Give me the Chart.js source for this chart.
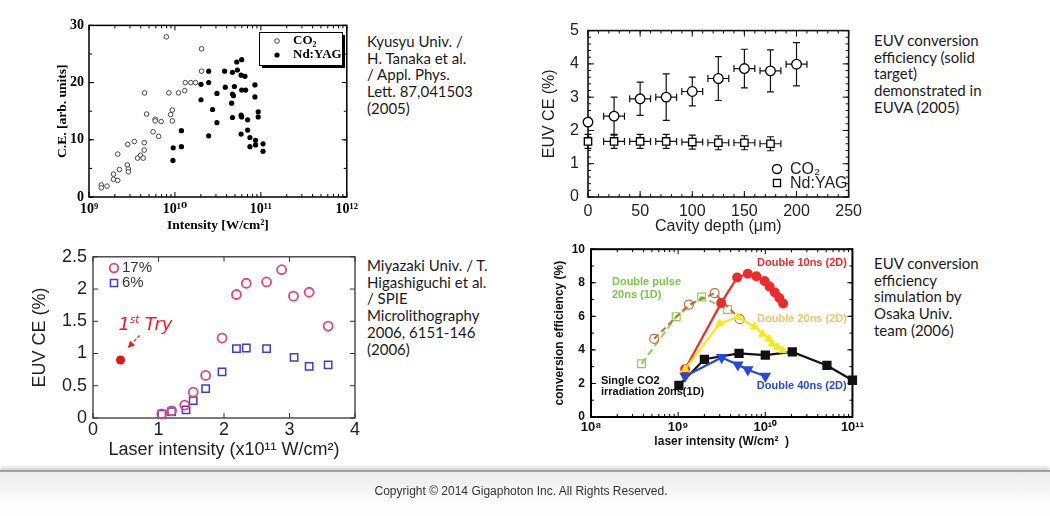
<!DOCTYPE html>
<html><head><meta charset="utf-8">
<script src="https://cdn.jsdelivr.net/npm/chart.js@4"></script>
<style>
html,body{margin:0;padding:0;background:#fff;width:1050px;height:516px;overflow:hidden;position:relative;}
canvas{position:absolute;}
.note{position:absolute;font-family:Lato,'DejaVu Sans',sans-serif;font-size:15px;line-height:16.7px;color:#1a1a1a;white-space:nowrap;}
#footer{position:absolute;left:0;top:470px;width:1050px;height:46px;background:linear-gradient(#ebebeb,#fefefe 70%);border-top:2px solid #a0a0a0;box-shadow:0 -2px 4px rgba(0,0,0,0.22);}
#footer span{position:absolute;left:0;width:1042px;text-align:center;top:12px;font-family:'Liberation Sans Narrow','Liberation Sans',sans-serif;font-size:12px;color:#333;}
</style></head>
<body>
<canvas id="c1" width="322" height="222" style="left:40px;top:12px"></canvas>
<canvas id="c2" width="352" height="232" style="left:515px;top:12px"></canvas>
<canvas id="c3" width="350" height="225" style="left:15px;top:240px"></canvas>
<canvas id="c4" width="352" height="222" style="left:515px;top:236px"></canvas>

<div class="note" style="left:367px;top:33px">Kyusyu Univ. /<br>H. Tanaka et al.<br>/ Appl. Phys.<br>Lett. 87,041503<br>(2005)</div>
<div class="note" style="left:874px;top:32px">EUV conversion<br>efficiency (solid<br>target)<br>demonstrated in<br>EUVA (2005)</div>
<div class="note" style="left:367px;top:257px">Miyazaki Univ. / T.<br>Higashiguchi et al.<br>/ SPIE<br>Microlithography<br>2006, 6151-146<br>(2006)</div>
<div class="note" style="left:874px;top:255px">EUV conversion<br>efficiency<br>simulation by<br>Osaka Univ.<br>team (2006)</div>
<div id="footer"><span>Copyright © 2014 Gigaphoton Inc. All Rights Reserved.</span></div>

<script>
// ================= DATA =================
// Chart 1 : Kyusyu (C.E. vs intensity)
const c1XTicks = [1e9, 1e10, 1e11, 1e12];
const c1XTickLabels = ['10⁹', '10¹⁰', '10¹¹', '10¹²'];
const c1YTicks = [0, 10, 20, 30];
const c1YTickLabels = ['0', '10', '20', '30'];
const c1CO2X = [1.39e9,1.39e9,1.62e9,1.93e9,1.93e9,2.16e9,2.26e9,2.16e9,2.79e9,2.87e9,2.87e9,2.82e9,3.37e9,
  3.67e9,3.98e9,4.27e9,4.39e9,4.39e9,4.43e9,4.68e9,5.57e9,5.89e9,5.89e9,6.46e9,6.92e9,7.94e9,8.51e9,8.91e9,
  9.33e9,9.33e9,1.10e10,1.30e10,1.32e10,1.53e10,1.74e10,2.04e10,2.04e10];
const c1CO2Y = [2.1,1.6,1.9,4.0,3.1,2.9,4.8,7.5,5.6,4.9,4.4,9.2,9.7,
  6.8,7.3,6.8,8.2,9.5,18.2,14.5,11.4,13.6,13.3,10.6,13.2,28.0,18.2,14.4,
  15.2,13.3,18.2,18.6,20.0,20.0,20.0,25.9,22.0];
const c1YagX = [9.48e9,9.55e9,1.19e10,1.19e10,2.01e10,2.01e10,2.47e10,2.47e10,2.47e10,2.74e10,3.08e10,3.08e10,
  3.78e10,3.85e10,4.67e10,4.67e10,4.80e10,4.57e10,4.67e10,4.92e10,5.24e10,5.33e10,5.98e10,5.89e10,5.89e10,
  5.98e10,5.89e10,6.53e10,5.98e10,6.65e10,7.02e10,7.02e10,7.46e10,7.46e10,8.53e10,8.53e10,8.67e10,8.67e10,
  9.31e10,9.31e10,1.06e11,1.06e11];
const c1YagY = [6.4,8.6,8.8,11.6,19.7,17.0,22.0,20.0,10.7,15.3,18.1,13.0,
  22.0,19.2,21.8,18.0,17.7,16.4,13.9,19.3,23.6,22.2,24.0,21.3,14.3,
  14.0,11.0,21.1,18.7,18.7,13.5,11.7,10.4,8.8,19.6,17.5,9.9,9.1,
  14.9,14.0,9.3,8.0];

// Chart 2 : EUVA cavity depth
const c2XTicks = [0, 50, 100, 150, 200, 250];
const c2YTicks = [0, 1, 2, 3, 4, 5];
const c2CO2Depth = [0, 25, 50, 75, 100, 125, 150, 175, 200];
const c2CO2CE = [2.25, 2.43, 2.95, 3.0, 3.17, 3.56, 3.86, 3.79, 3.99];
const c2CO2ErrY = [0, 0.57, 0.5, 0.7, 0.43, 0.66, 0.58, 0.63, 0.65];
const c2CO2ErrX = [0, 10, 10, 10, 10, 10, 10, 10, 10];
const c2YagDepth = [0, 25, 50, 75, 100, 125, 150, 175];
const c2YagCE = [1.67, 1.67, 1.67, 1.67, 1.65, 1.63, 1.63, 1.60];
const c2YagErrY = [0.21, 0.21, 0.21, 0.21, 0.21, 0.21, 0.21, 0.21];
const c2YagErrX = [0, 10, 10, 10, 10, 10, 10, 10];

// Chart 3 : Miyazaki
const c3XTicks = [0, 1, 2, 3, 4];
const c3YTicks = [0, 0.5, 1, 1.5, 2, 2.5];
const c3YTickLabels = ['0', '0.5', '1', '1.5', '2', '2.5'];
const c3X17 = [1.05, 1.20, 1.40, 1.53, 1.72, 1.97, 2.19, 2.34, 2.65, 2.88, 3.06, 3.30, 3.59];
const c3Y17 = [0.065, 0.11, 0.20, 0.40, 0.66, 1.24, 1.915, 2.09, 2.11, 2.30, 1.89, 1.95, 1.425];
const c3X6 = [1.05, 1.20, 1.42, 1.53, 1.72, 1.97, 2.19, 2.34, 2.65, 3.07, 3.30, 3.59];
const c3Y6 = [0.06, 0.10, 0.125, 0.27, 0.455, 0.715, 1.075, 1.085, 1.075, 0.94, 0.80, 0.825];
const c3FirstX = [0.42];
const c3FirstY = [0.90];

// Chart 4 : Osaka simulation
const c4XTicks = [1e8, 1e9, 1e10, 1e11];
const c4XTickLabels = ['10⁸', '10⁹', '10¹⁰', '10¹¹'];
const c4YTicks = [0, 2, 4, 6, 8, 10];
const c4SingleX = [1.02e9, 2.0e9, 5.0e9, 1.0e10, 2.04e10, 5.1e10, 1.0e11];
const c4SingleY = [1.88, 3.44, 3.79, 3.69, 3.88, 3.07, 2.19];
const c4PulseSqX = [3.8e8, 9.5e8, 1.86e9, 3.7e9];
const c4PulseSqY = [3.17, 5.98, 7.15, 6.41];
const c4PulseCiX = [5.3e8, 1.33e9, 2.62e9, 5.1e9];
const c4PulseCiY = [4.66, 6.70, 7.38, 5.83];
const c4D10X = [1.2e9, 3.12e9, 4.75e9, 6.3e9, 7.9e9, 9.8e9, 1.12e10, 1.29e10, 1.45e10, 1.6e10];
const c4D10Y = [2.85, 6.80, 8.31, 8.54, 8.39, 8.10, 7.77, 7.42, 7.09, 6.76];
const c4D20X = [1.2e9, 2.99e9, 4.84e9, 7.5e9, 9.3e9, 1.1e10, 1.2e10, 1.38e10, 1.58e10];
const c4D20Y = [2.85, 5.57, 5.96, 5.38, 4.95, 4.66, 4.37, 4.17, 3.98];
const c4D40X = [1.2e9, 3.16e9, 4.84e9, 6.3e9, 1.0e10];
const c4D40Y = [2.43, 3.55, 3.11, 2.82, 2.43];

// ================= HELPERS =================
const pts = (xs, ys) => xs.map((x, i) => ({x, y: ys[i]}));
const range = (a, b, s) => { const r = []; for (let v = a; v <= b + 1e-9; v += s) r.push(+v.toFixed(6)); return r; };
const logMinor = (e0, e1) => { const r = []; for (let e = e0; e < e1; e++) for (let m = 2; m <= 9; m++) r.push(m * Math.pow(10, e)); return r; };
const fixTicks = arr => (s => { s.ticks = arr.map(v => ({value: v})); });

function drawMarker(ctx, style, x, y, r, fill, stroke, bw) {
  ctx.save();
  ctx.fillStyle = fill; ctx.strokeStyle = stroke; ctx.lineWidth = bw;
  ctx.beginPath();
  if (style === 'rect') { const h = r * Math.SQRT1_2; ctx.rect(x - h, y - h, 2 * h, 2 * h); }
  else ctx.arc(x, y, r, 0, Math.PI * 2);
  ctx.fill(); if (bw > 0) ctx.stroke();
  ctx.restore();
}

const framePlugin = {
  id: 'frameTicks',
  beforeDatasetsDraw(chart, args, o) {
    if (!o || !o.on) return;
    const {ctx, chartArea: a} = chart;
    const sx = chart.scales.x, sy = chart.scales.y;
    ctx.save();
    ctx.strokeStyle = o.color || '#000';
    ctx.lineWidth = o.tickWidth || 1;
    ctx.beginPath();
    const doX = (vals, len) => (vals || []).forEach(v => {
      const p = sx.getPixelForValue(v);
      if (p < a.left - 0.5 || p > a.right + 0.5) return;
      ctx.moveTo(p, a.bottom); ctx.lineTo(p, a.bottom - len);
      if (o.mirror) { ctx.moveTo(p, a.top); ctx.lineTo(p, a.top + len); }
    });
    const doY = (vals, len) => (vals || []).forEach(v => {
      const p = sy.getPixelForValue(v);
      if (p < a.top - 0.5 || p > a.bottom + 0.5) return;
      ctx.moveTo(a.left, p); ctx.lineTo(a.left + len, p);
      if (o.mirror) { ctx.moveTo(a.right, p); ctx.lineTo(a.right - len, p); }
    });
    doX(o.xMajor, o.majorLen); doX(o.xMinor, o.minorLen);
    doY(o.yMajor, o.majorLen); doY(o.yMinor, o.minorLen);
    ctx.stroke();
    ctx.lineWidth = o.frameWidth || 1;
    ctx.strokeRect(a.left, a.top, a.right - a.left, a.bottom - a.top);
    ctx.restore();
  }
};

const errorPlugin = {
  id: 'errorBars',
  beforeDatasetsDraw(chart, args, o) {
    const {ctx} = chart;
    const sx = chart.scales.x, sy = chart.scales.y;
    ctx.save();
    ctx.strokeStyle = (o && o.color) || '#000';
    ctx.lineWidth = (o && o.width) || 1.2;
    const cap = (o && o.cap) || 3;
    chart.data.datasets.forEach(ds => {
      if (!ds.errY && !ds.errX) return;
      ds.data.forEach((p, i) => {
        const px = sx.getPixelForValue(p.x), py = sy.getPixelForValue(p.y);
        const ey = ds.errY ? ds.errY[i] : 0, ex = ds.errX ? ds.errX[i] : 0;
        ctx.beginPath();
        if (ey) {
          const y1 = sy.getPixelForValue(p.y - ey), y2 = sy.getPixelForValue(p.y + ey);
          ctx.moveTo(px, y1); ctx.lineTo(px, y2);
          ctx.moveTo(px - cap, y1); ctx.lineTo(px + cap, y1);
          ctx.moveTo(px - cap, y2); ctx.lineTo(px + cap, y2);
        }
        if (ex) {
          const x1 = sx.getPixelForValue(p.x - ex), x2 = sx.getPixelForValue(p.x + ex);
          ctx.moveTo(x1, py); ctx.lineTo(x2, py);
          ctx.moveTo(x1, py - cap); ctx.lineTo(x1, py + cap);
          ctx.moveTo(x2, py - cap); ctx.lineTo(x2, py + cap);
        }
        ctx.stroke();
      });
    });
    ctx.restore();
  }
};

const legendPlugin = {
  id: 'boxLegend',
  afterDraw(chart, args, o) {
    if (!o || !o.items) return;
    const ctx = chart.ctx;
    ctx.save();
    if (o.box) {
      const b = o.box;
      ctx.fillStyle = '#000'; ctx.fillRect(b.x + b.shadow, b.y + b.shadow, b.w, b.h);
      ctx.fillStyle = '#fff'; ctx.fillRect(b.x, b.y, b.w, b.h);
      ctx.strokeStyle = '#000'; ctx.lineWidth = 1; ctx.strokeRect(b.x + 0.5, b.y + 0.5, b.w, b.h);
    }
    o.items.forEach(it => {
      const ds = chart.data.datasets[it.ds];
      drawMarker(ctx, ds.pointStyle, it.x, it.y, it.r, ds.backgroundColor, ds.borderColor, ds.borderWidth);
      ctx.font = o.font; ctx.fillStyle = o.color; ctx.textBaseline = 'middle'; ctx.textAlign = 'left';
      ctx.fillText(ds.label, it.x + o.textDx, it.y + (o.textDy || 0));
    });
    ctx.restore();
  }
};

const notesPlugin = {
  id: 'notes',
  afterDatasetsDraw(chart, args, o) {
    if (!o) return;
    const {ctx} = chart;
    const sx = chart.scales.x, sy = chart.scales.y;
    ctx.save();
    (o.items || []).forEach(it => {
      const px = sx.getPixelForValue(it.x), py = sy.getPixelForValue(it.y);
      ctx.fillStyle = it.color; ctx.textBaseline = 'middle'; ctx.textAlign = 'left';
      let cx = px;
      it.parts.forEach(p => {
        ctx.font = p.sup ? it.supFont : it.font;
        ctx.fillText(p.t, cx, py - (p.sup ? it.supDy : 0));
        cx += ctx.measureText(p.t).width;
      });
    });
    (o.arrows || []).forEach(ar => {
      const x1 = sx.getPixelForValue(ar.x1), y1 = sy.getPixelForValue(ar.y1);
      const x2 = sx.getPixelForValue(ar.x2), y2 = sy.getPixelForValue(ar.y2);
      ctx.strokeStyle = ar.color; ctx.fillStyle = ar.color; ctx.lineWidth = 1.3;
      ctx.setLineDash([3, 2]);
      const ang = Math.atan2(y2 - y1, x2 - x1);
      const hl = 8;
      ctx.beginPath(); ctx.moveTo(x1, y1); ctx.lineTo(x2 - hl * Math.cos(ang), y2 - hl * Math.sin(ang)); ctx.stroke();
      ctx.setLineDash([]);
      ctx.beginPath();
      ctx.moveTo(x2, y2);
      ctx.lineTo(x2 - hl * Math.cos(ang - 0.45), y2 - hl * Math.sin(ang - 0.45));
      ctx.lineTo(x2 - hl * Math.cos(ang + 0.45), y2 - hl * Math.sin(ang + 0.45));
      ctx.closePath(); ctx.fill();
    });
    ctx.restore();
  }
};

Chart.register(framePlugin, errorPlugin, legendPlugin, notesPlugin);

const base = {
  responsive: false, animation: false, devicePixelRatio: 1,
  events: []
};
const noPlug = {legend: {display: false}, tooltip: {enabled: false}};
function axis(o) {
  return Object.assign({
    grid: {display: false, drawTicks: false}, border: {display: false}
  }, o);
}

// ================= CHART 1 =================
const serifB = (size) => ({family: "'Liberation Serif','DejaVu Serif',serif", weight: 'bold', size});
new Chart(document.getElementById('c1'), {
  type: 'scatter',
  data: {datasets: [
    {label: 'CO₂', data: pts(c1CO2X, c1CO2Y), pointStyle: 'circle', pointRadius: 2.3, borderWidth: 0.9,
     borderColor: '#333', backgroundColor: '#fff', clip: false},
    {label: 'Nd:YAG', data: pts(c1YagX, c1YagY), pointStyle: 'circle', pointRadius: 2.6, borderWidth: 0,
     borderColor: '#000', backgroundColor: '#000', clip: false}
  ]},
  options: Object.assign({}, base, {
    layout: {padding: {top: 13, right: 13, left: 0, bottom: 0}},
    scales: {
      x: axis({type: 'logarithmic', min: 1e9, max: 1e12, afterBuildTicks: fixTicks(c1XTicks),
        afterFit: s => { s.height = 37; },
        ticks: {callback: (v, i) => c1XTickLabels[i], font: serifB(14), color: '#000', padding: 4, maxRotation: 0, autoSkip: false},
        title: {display: true, text: 'Intensity [W/cm²]', font: serifB(13.5), color: '#000', padding: {top: 0, bottom: 0}}}),
      y: axis({type: 'linear', min: 0, max: 30, afterBuildTicks: fixTicks(c1YTicks),
        afterFit: s => { s.width = 49; },
        ticks: {callback: (v, i) => c1YTickLabels[i], font: serifB(14), color: '#000', padding: 5},
        title: {display: true, text: 'C.E. [arb. units]', font: serifB(13.5), color: '#000', padding: {top: 14, bottom: 0}}})
    },
    plugins: Object.assign({}, noPlug, {
      frameTicks: {on: true, mirror: true, frameWidth: 1.5, majorLen: 5, minorLen: 3,
        xMajor: c1XTicks, xMinor: logMinor(9, 12), yMajor: c1YTicks, yMinor: range(0, 30, 5)},
      boxLegend: {box: {x: 219, y: 20, w: 83, h: 33, shadow: 3}, font: "bold 13px 'Liberation Serif',serif", color: '#000', textDx: 16,
        items: [{ds: 0, x: 237, y: 29, r: 2.3}, {ds: 1, x: 237, y: 43, r: 2.6}]}
    })
  })
});

// ================= CHART 2 =================
const sans = (size) => ({family: "'Liberation Sans',Arial,sans-serif", size});
new Chart(document.getElementById('c2'), {
  type: 'scatter',
  data: {datasets: [
    {label: 'CO₂', data: pts(c2CO2Depth, c2CO2CE), errY: c2CO2ErrY, errX: c2CO2ErrX, pointStyle: 'circle', pointRadius: 4.8,
     borderWidth: 1.3, borderColor: '#000', backgroundColor: '#fff', clip: false},
    {label: 'Nd:YAG', data: pts(c2YagDepth, c2YagCE), errY: c2YagErrY, errX: c2YagErrX, pointStyle: 'rect', pointRadius: 5.2,
     borderWidth: 1.3, borderColor: '#000', backgroundColor: '#fff', clip: false}
  ]},
  options: Object.assign({}, base, {
    layout: {padding: {top: 18, right: 14, left: 0, bottom: 0}},
    scales: {
      x: axis({type: 'linear', min: 0, max: 250, afterBuildTicks: fixTicks(c2XTicks),
        afterFit: s => { s.height = 47; },
        ticks: {font: sans(16), color: '#222', padding: 5, maxRotation: 0, autoSkip: false},
        title: {display: true, text: 'Cavity depth (μm)', font: sans(16), color: '#222', padding: {top: 0, bottom: 8}}}),
      y: axis({type: 'linear', min: 0, max: 5, afterBuildTicks: fixTicks(c2YTicks),
        afterFit: s => { s.width = 73; },
        ticks: {font: sans(16), color: '#222', padding: 9},
        title: {display: true, text: 'EUV CE (%)', font: sans(16), color: '#222', padding: {top: 25, bottom: 0}}})
    },
    plugins: Object.assign({}, noPlug, {
      frameTicks: {on: true, mirror: true, frameWidth: 1.6, color: '#111', majorLen: 6, minorLen: 3,
        xMajor: c2XTicks, xMinor: range(0, 250, 10), yMajor: c2YTicks, yMinor: range(0, 5, 0.2)},
      errorBars: {color: '#111', width: 1.2, cap: 3.5},
      boxLegend: {font: "16px 'Liberation Sans',Arial,sans-serif", color: '#222', textDx: 13, textDy: 1,
        items: [{ds: 0, x: 262, y: 157, r: 4.5}, {ds: 1, x: 262, y: 171, r: 5}]}
    })
  })
});

// ================= CHART 3 =================
const pink = '#e0447f', blue3 = '#3d3dd0';
new Chart(document.getElementById('c3'), {
  type: 'scatter',
  data: {datasets: [
    {label: '17%', data: pts(c3X17, c3Y17), pointStyle: 'circle', pointRadius: 4.5, borderWidth: 1.8,
     borderColor: pink, backgroundColor: 'rgba(255,255,255,0)', clip: false},
    {label: '6%', data: pts(c3X6, c3Y6), pointStyle: 'rect', pointRadius: 5.2, borderWidth: 1.5,
     borderColor: blue3, backgroundColor: 'rgba(255,255,255,0)', clip: false},
    {label: '1st Try', data: pts(c3FirstX, c3FirstY), pointStyle: 'circle', pointRadius: 4.5, borderWidth: 0,
     borderColor: '#e8141c', backgroundColor: '#e8141c', clip: false}
  ]},
  options: Object.assign({}, base, {
    layout: {padding: {top: 12, right: 10, left: 0, bottom: 0}},
    scales: {
      x: axis({type: 'linear', min: 0, max: 4, afterBuildTicks: fixTicks(c3XTicks),
        afterFit: s => { s.height = 47; },
        ticks: {font: sans(18), color: '#222', padding: 1, maxRotation: 0, autoSkip: false},
        title: {display: true, text: 'Laser intensity (x10¹¹ W/cm²)', font: sans(18), color: '#222', padding: {top: 0, bottom: 4}}}),
      y: axis({type: 'linear', min: 0, max: 2.5, afterBuildTicks: fixTicks(c3YTicks),
        afterFit: s => { s.width = 78; },
        ticks: {callback: (v, i) => c3YTickLabels[i], font: sans(18), color: '#222', padding: 6},
        title: {display: true, text: 'EUV CE (%)', font: sans(18), color: '#222', padding: {top: 14, bottom: 0}}})
    },
    plugins: Object.assign({}, noPlug, {
      frameTicks: {on: true, mirror: true, frameWidth: 1.3, color: '#333', majorLen: 5, minorLen: 0,
        xMajor: c3XTicks, yMajor: c3YTicks},
      boxLegend: {font: "15px 'Liberation Sans',Arial,sans-serif", color: '#333', textDx: 8, textDy: 0,
        items: [{ds: 0, x: 99, y: 28, r: 4.3}, {ds: 1, x: 99, y: 43, r: 5}]},
      notes: {
        items: [{x: 0.39, y: 1.44, color: '#e8202a', font: "italic 18px 'DejaVu Sans',sans-serif",
          supFont: "italic 10px 'DejaVu Sans',sans-serif", supDy: 5,
          parts: [{t: '1'}, {t: 'st', sup: true}, {t: ' Try'}]}],
        arrows: [{x1: 0.71, y1: 1.28, x2: 0.53, y2: 1.085, color: '#e8202a'}]
      }
    })
  })
});

// ================= CHART 4 =================
const boldS = (size) => ({family: "'Liberation Sans',Arial,sans-serif", weight: 'bold', size});
const red4 = '#f02a2a', yel4 = '#f7ea10', blu4 = '#2448e0', grn4 = '#86d64a', brn4 = '#c8683c';
new Chart(document.getElementById('c4'), {
  type: 'scatter',
  data: {datasets: [
    {label: 'Double 20ns (2D)', data: pts(c4D20X, c4D20Y), showLine: true, borderWidth: 2.2, borderColor: yel4,
     pointStyle: 'triangle', pointRadius: 4.5, pointBackgroundColor: yel4, pointBorderColor: yel4, pointBorderWidth: 1, clip: false},
    {label: 'Double 40ns (2D)', data: pts(c4D40X, c4D40Y), showLine: true, borderWidth: 2.2, borderColor: blu4,
     pointStyle: 'triangle', pointRotation: 180, pointRadius: 4.5, pointBackgroundColor: blu4, pointBorderColor: blu4, clip: false},
    {label: 'Double 10ns (2D)', data: pts(c4D10X, c4D10Y), showLine: true, borderWidth: 2.2, borderColor: red4,
     pointStyle: 'circle', pointRadius: 3.9, pointBackgroundColor: red4, pointBorderColor: red4, clip: false},
    {label: 'Single CO2 irradiation 20ns(1D)', data: pts(c4SingleX, c4SingleY), showLine: true, borderWidth: 2.2, borderColor: '#111',
     pointStyle: 'rect', pointRadius: 5, pointBackgroundColor: '#111', pointBorderColor: '#111', clip: false},
    {label: 'Double pulse 20ns (1D) circles', data: pts(c4PulseCiX, c4PulseCiY), showLine: true, borderWidth: 2, borderColor: brn4,
     borderDash: [6, 4], pointStyle: 'circle', pointRadius: 4.5, pointBackgroundColor: 'rgba(0,0,0,0)', pointBorderColor: brn4, pointBorderWidth: 1.2, clip: false},
    {label: 'Double pulse 20ns (1D)', data: pts(c4PulseSqX, c4PulseSqY), showLine: true, borderWidth: 2, borderColor: grn4,
     borderDash: [7, 4], pointStyle: 'rect', pointRadius: 5.5, pointBackgroundColor: 'rgba(0,0,0,0)', pointBorderColor: grn4, pointBorderWidth: 1.2, clip: false}
  ]},
  options: Object.assign({}, base, {
    layout: {padding: {top: 9, right: 14, left: 0, bottom: 0}},
    scales: {
      x: axis({type: 'logarithmic', min: 1e8, max: 1e11, afterBuildTicks: fixTicks(c4XTicks),
        afterFit: s => { s.height = 41; },
        ticks: {callback: (v, i) => c4XTickLabels[i], font: boldS(13), color: '#111', padding: 3, maxRotation: 0, autoSkip: false},
        title: {display: true, text: 'laser intensity (W/cm²  )', font: boldS(12), color: '#111', padding: {top: 0, bottom: 9}}}),
      y: axis({type: 'linear', min: 0, max: 10, afterBuildTicks: fixTicks(c4YTicks),
        afterFit: s => { s.width = 76; },
        ticks: {font: boldS(12), color: '#111', padding: 6},
        title: {display: true, text: 'conversion efficiency (%)', font: boldS(12), color: '#111', padding: {top: 37, bottom: 0}}})
    },
    plugins: Object.assign({}, noPlug, {
      frameTicks: {on: true, mirror: true, frameWidth: 2, color: '#000', majorLen: 5, minorLen: 3,
        xMajor: c4XTicks, xMinor: logMinor(8, 11), yMajor: c4YTicks, yMinor: range(0, 10, 1)},
      notes: {items: [
        {x: 8.05e9, y: 9.18, color: red4, font: "bold 11px 'Liberation Sans',Arial,sans-serif", parts: [{t: 'Double 10ns (2D)'}]},
        {x: 1.74e8, y: 8.02, color: '#77c940', font: "bold 11px 'Liberation Sans',Arial,sans-serif", parts: [{t: 'Double pulse'}]},
        {x: 1.74e8, y: 7.26, color: '#77c940', font: "bold 11px 'Liberation Sans',Arial,sans-serif", parts: [{t: '20ns (1D)'}]},
        {x: 8.05e9, y: 5.86, color: '#f0c36c', font: "bold 11px 'Liberation Sans',Arial,sans-serif", parts: [{t: 'Double 20ns (2D)'}]},
        {x: 1.3e8, y: 2.14, color: '#111', font: "bold 11px 'Liberation Sans',Arial,sans-serif", parts: [{t: 'Single CO2'}]},
        {x: 1.3e8, y: 1.5, color: '#111', font: "bold 11px 'Liberation Sans',Arial,sans-serif", parts: [{t: 'irradiation 20ns(1D)'}]},
        {x: 8.0e9, y: 1.85, color: blu4, font: "bold 11px 'Liberation Sans',Arial,sans-serif", parts: [{t: 'Double 40ns (2D)'}]}
      ]}
    })
  })
});
</script>
</body></html>
